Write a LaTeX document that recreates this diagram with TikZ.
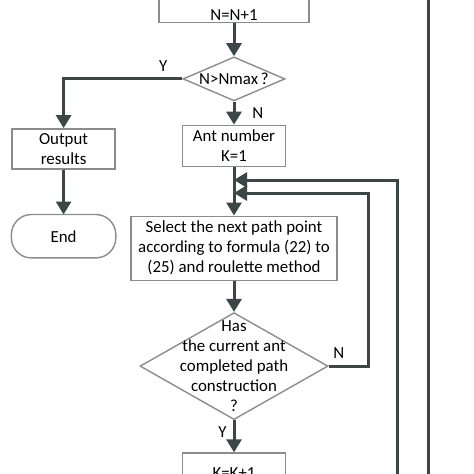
\documentclass[tikz,border=0pt]{standalone}
\usepackage{fontspec}
\setmainfont{Carlito}
\usetikzlibrary{positioning,shapes.geometric,arrows.meta}

\definecolor{linegray}{HTML}{3B4647}
\definecolor{boxgray}{HTML}{8C8C8C}

\begin{document}
\begin{tikzpicture}[node distance=0.5cm,
		box/.style={rectangle, draw=boxgray, line width=0.8pt, minimum width=2.06cm, minimum height=0.82cm, align=center, inner sep=1pt},
		dec/.style={diamond, draw=boxgray, line width=0.8pt, inner sep=0pt},
		flow/.style={draw=linegray, line width=1.7pt, -{Triangle[length=0.26cm,width=0.3cm]}},
		font=\fontsize{9.6}{11.4}\selectfont]
			\clip (0,0) rectangle (9.48,-9.48);
			\useasboundingbox (0,0) rectangle (9.48,-9.48);

			\node[box, minimum width=3cm, minimum height=0.84cm, label={[anchor=south, inner sep=1.5pt]south:N=N+1}] (1) at (4.68,-0.03) {};
			\node[dec, minimum width=2.04cm, minimum height=0.88cm, label={center:N>Nmax\,?}] (2)[below=0.66cm of 1] {};
			\node[box] (3)[below=0.46cm of 2] {Ant number\\K=1};
			\node[box, minimum width=4.12cm, minimum height=1.28cm] (4)[below=0.97cm of 3] {Select the next path point\\according to formula (22) to\\(25) and roulette method};
			\node[dec, minimum width=3.76cm, minimum height=2.14cm, label={[align=center]center:Has\\the current ant\\completed path\\construction\\?}] (5)[below=0.62cm of 4] {};
			\node[box] (6)[below=0.64cm of 5] {K=K+1};

			\node[box, minimum height=0.8cm] (7)[left=1.32cm of 3, yshift=-0.06cm] {Output\\results};
			\node[box, draw=none, minimum height=0.84cm] (8)[below=0.9cm of 7] {End};
			\draw[boxgray, line width=0.8pt, rounded corners=0.4cm] (8.north west) rectangle (8.south east);

			\coordinate[below=0.52cm of 3.south] (9);
			\coordinate[below=0.26cm of 3.south] (10);
			\coordinate (11) at (7.94,-9.7);
			\coordinate (12) at (8.56,0.2);
			\coordinate (13) at (8.56,-9.7);

			\path[every edge/.style={flow}]
				(1) edge (2)
				(2) edge node[right, xshift=0.22cm] {N} (3)
				(3) edge (4)
				(4) edge (5)
				(5) edge node[left, pos=0.38] {Y} (6)
				(7) edge (8)
			;

			\draw[flow] (2.west) -| node[pos=0.08, above] {Y} (7.north);
			\draw[flow] (5.east) -- ++(0.8,0) node[pos=0.25, above] {N} |- (9);
			\draw[flow] (11) |- (10);
			\draw[linegray, line width=1.7pt] (12) -- (13);
		\end{tikzpicture}
\end{document}
